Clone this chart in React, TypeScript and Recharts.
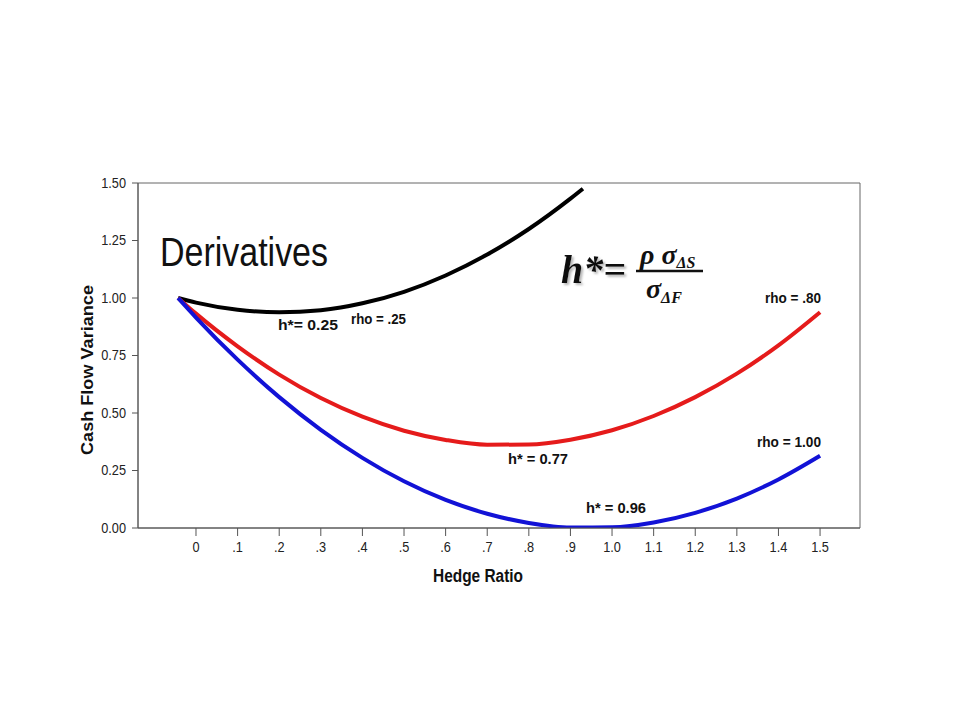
import React from 'react';
import { LineChart, Line, XAxis, YAxis, ReferenceArea } from 'recharts';

// Hedge ratio positions (read against the drawn axis) and variance values
const hedgeRatios = [-0.043, 0, 0.1, 0.2, 0.3, 0.4, 0.5, 0.6, 0.7, 0.8, 0.9, 1.0, 1.1, 1.2, 1.3, 1.4, 1.5];
const rho100 = [1.0, 0.915, 0.732, 0.569, 0.427, 0.305, 0.203, 0.122, 0.062, 0.022, 0.002, 0.003, 0.024, 0.066, 0.128, 0.211, 0.314];
const rho080 = [1.0, 0.932, 0.79, 0.667, 0.565, 0.484, 0.423, 0.383, 0.362, 0.363, 0.384, 0.425, 0.487, 0.569, 0.671, 0.794, 0.938];
const hedgeRatiosRho025 = [-0.043, 0, 0.1, 0.2, 0.3, 0.4, 0.5, 0.6, 0.7, 0.8, 0.9, 0.93];
const rho025 = [1.0, 0.98, 0.949, 0.938, 0.947, 0.977, 1.027, 1.098, 1.189, 1.3, 1.432, 1.475];

const xTicks = [0, 0.1, 0.2, 0.3, 0.4, 0.5, 0.6, 0.7, 0.8, 0.9, 1.0, 1.1, 1.2, 1.3, 1.4, 1.5];
const xTickLabels = ['0', '.1', '.2', '.3', '.4', '.5', '.6', '.7', '.8', '.9', '1.0', '1.1', '1.2', '1.3', '1.4', '1.5'];
const yTicks = [0, 0.25, 0.5, 0.75, 1.0, 1.25, 1.5];
const yTickLabels = ['0.00', '0.25', '0.50', '0.75', '1.00', '1.25', '1.50'];

const seriesRho100 = hedgeRatios.map((x, i) => ({ x, v: rho100[i] }));
const seriesRho080 = hedgeRatios.map((x, i) => ({ x, v: rho080[i] }));
const seriesRho025 = hedgeRatiosRho025.map((x, i) => ({ x, v: rho025[i] }));

const X_MIN = -0.1394;
const X_MAX = 1.596;

const sans = "'Liberation Sans', Arial, sans-serif";
const serif = "'Liberation Serif', 'DejaVu Serif', serif";

const XTick = (props: any) => {
  const { x, y, payload } = props;
  const i = xTicks.findIndex((t) => Math.abs(t - payload.value) < 1e-6);
  const label = i >= 0 ? xTickLabels[i] : '';
  return (
    <text x={x} y={y + 12} fontSize={15} fontFamily={sans} fill="#222" textAnchor="middle"
      transform={`translate(${x},0) scale(0.85,1) translate(${-x},0)`}>
      {label}
    </text>
  );
};

const YTick = (props: any) => {
  const { x, y, payload } = props;
  const i = yTicks.findIndex((t) => Math.abs(t - payload.value) < 1e-6);
  const label = i >= 0 ? yTickLabels[i] : '';
  return (
    <text x={x} y={y + 5} fontSize={15} fontFamily={sans} fill="#222" textAnchor="end"
      transform={`translate(${x},0) scale(0.85,1) translate(${-x},0)`}>
      {label}
    </text>
  );
};

const Lbl = ({ x, y, w, children, anchor }: any) => (
  <text x={x} y={y} fontSize={14} fontWeight="bold" fontFamily={sans} fill="#111"
    textLength={w} lengthAdjust="spacingAndGlyphs" textAnchor={anchor || 'start'}>
    {children}
  </text>
);

export default function App() {
  return (
    <div style={{ position: 'absolute', left: 0, top: 0, width: 960, height: 720, background: '#fff' }}>
      <LineChart
        width={960}
        height={720}
        margin={{ top: 183, right: 100, bottom: 162, left: 78 }}
      >
        <XAxis
          dataKey="x"
          type="number"
          domain={[X_MIN, X_MAX]}
          ticks={xTicks}
          allowDataOverflow
          height={30}
          tickSize={8}
          tickMargin={4}
          stroke="#555"
          tick={<XTick />}
        />
        <YAxis
          type="number"
          domain={[0, 1.5]}
          ticks={yTicks}
          allowDataOverflow
          width={60}
          tickSize={6}
          tickMargin={6}
          stroke="#555"
          tick={<YTick />}
        />
        <ReferenceArea x1={X_MIN} x2={X_MAX} y1={0} y2={1.5} fill="none" stroke="#666" strokeWidth={1} ifOverflow="visible" />
        <Line data={seriesRho025} dataKey="v" type="monotone" stroke="#000" strokeWidth={4} dot={false} isAnimationActive={false} />
        <Line data={seriesRho080} dataKey="v" type="monotone" stroke="#e51b1b" strokeWidth={4} dot={false} isAnimationActive={false} />
        <Line data={seriesRho100} dataKey="v" type="monotone" stroke="#1212d6" strokeWidth={4} dot={false} isAnimationActive={false} />
      </LineChart>
      <svg width={960} height={720} style={{ position: 'absolute', left: 0, top: 0, pointerEvents: 'none' }}>
        <defs>
          <filter id="shadow" x="-20%" y="-20%" width="140%" height="140%">
            <feDropShadow dx="2" dy="2" stdDeviation="1" floodColor="#999" floodOpacity="0.7" />
          </filter>
        </defs>
        <text x={160} y={266} fontSize={40} fontFamily={sans} fill="#111" textLength={168} lengthAdjust="spacingAndGlyphs">Derivatives</text>

        <Lbl x={278} y={330} w={60}>h*= 0.25</Lbl>
        <Lbl x={351} y={324} w={55}>rho = .25</Lbl>
        <Lbl x={508} y={464} w={60}>h* = 0.77</Lbl>
        <Lbl x={586} y={513} w={60}>h* = 0.96</Lbl>
        <Lbl x={765} y={303} w={56}>rho = .80</Lbl>
        <Lbl x={757} y={447} w={64}>rho = 1.00</Lbl>

        <text x={433} y={582} fontSize={18} fontWeight="bold" fontFamily={sans} fill="#111"
          textLength={90} lengthAdjust="spacingAndGlyphs">Hedge Ratio</text>
        <text
          x={0}
          y={0}
          transform="translate(93,370) rotate(-90)"
          fontSize={16}
          fontWeight="bold"
          fontFamily={sans}
          fill="#111"
          textAnchor="middle"
          textLength={170}
          lengthAdjust="spacingAndGlyphs"
        >
          Cash Flow Variance
        </text>

        {/* formula */}
        <text x={561} y={283} fontSize={40} fontWeight="bold" fontStyle="italic" fontFamily={serif} fill="#111" filter="url(#shadow)">h*=</text>
        <text x={640} y={264} fontSize={28} fontWeight="bold" fontStyle="italic" fontFamily={serif} fill="#111">
          ρ σ<tspan fontSize={16} dy={4}>ΔS</tspan>
        </text>
        <line x1={636} y1={271} x2={703} y2={271} stroke="#111" strokeWidth={2.5} />
        <text x={646} y={298} fontSize={28} fontWeight="bold" fontStyle="italic" fontFamily={serif} fill="#111">
          σ<tspan fontSize={16} dy={5}>ΔF</tspan>
        </text>
      </svg>
    </div>
  );
}
